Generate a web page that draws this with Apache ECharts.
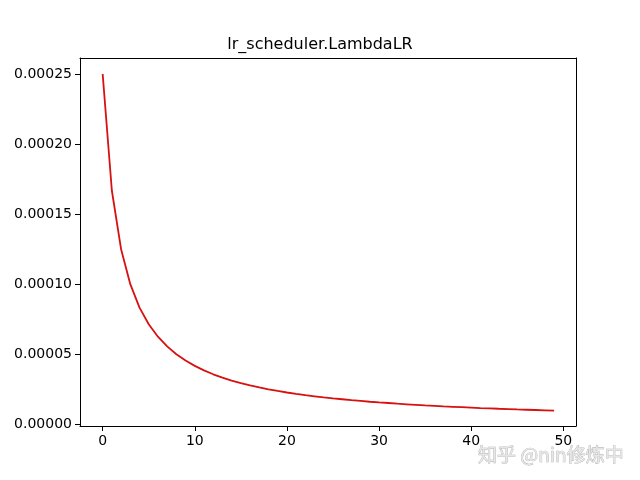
<!DOCTYPE html>
<html>
<head>
<meta charset="utf-8">
<script src="https://cdn.jsdelivr.net/npm/echarts@6/dist/echarts.min.js"></script>
<style>html,body{margin:0;padding:0;background:#fff;}#c{width:640px;height:480px;}</style>
</head>
<body>
<div id="c"></div>
<script>
var epochs = [0,1,2,3,4,5,6,7,8,9,10,11,12,13,14,15,16,17,18,19,20,21,22,23,24,25,26,27,28,29,30,31,32,33,34,35,36,37,38,39,40,41,42,43,44,45,46,47,48,49];
var lrValues = [0.00025,0.000166667,0.000125,0.0001,0.0000833,0.0000714,0.0000625,0.0000556,0.00005,0.0000455,
  0.0000417,0.0000385,0.0000357,0.0000333,0.00003125,0.0000294,0.0000278,0.0000263,0.000025,0.0000238,
  0.0000227,0.0000217,0.0000208,0.00002,0.0000192,0.0000185,0.0000179,0.0000172,0.0000167,0.0000161,
  0.0000156,0.0000152,0.0000147,0.0000143,0.0000139,0.0000135,0.0000132,0.0000128,0.0000125,0.0000122,
  0.0000119,0.0000116,0.0000114,0.0000111,0.0000109,0.0000106,0.0000104,0.0000102,0.00001,0.0000098];
var xTicks = [0,10,20,30,40,50];
var yTicks = [0,0.00005,0.0001,0.00015,0.0002,0.00025];
var titleText = 'lr_scheduler.LambdaLR';
var watermark = '知乎 @nin修炼中';

var chart = echarts.init(document.getElementById('c'), null, {renderer:'canvas'});
var font = 'DejaVu Sans';
var data = epochs.map(function(e,i){return [e, lrValues[i]];});
chart.setOption({
  animation:false,
  backgroundColor:'#fff',
  title:{text:titleText,left:'center',top:32,textStyle:{fontFamily:font,fontSize:16,fontWeight:'normal',color:'#000'}},
  grid:{left:80,right:64,top:58,bottom:54,containLabel:false},
  xAxis:[{
    type:'value',min:-2.46,max:51.38,position:'bottom',
    axisLine:{show:true,onZero:false,lineStyle:{color:'#000',width:1}},
    axisTick:{show:true,length:5,customValues:xTicks,lineStyle:{color:'#000'}},
    axisLabel:{show:true,customValues:xTicks,margin:8,fontFamily:font,fontSize:14,color:'#000',formatter:function(v){return String(v);}},
    splitLine:{show:false}
  },{
    type:'value',min:-2.46,max:51.38,position:'top',
    axisLine:{show:true,onZero:false,lineStyle:{color:'#000',width:1}},
    axisTick:{show:false},axisLabel:{show:false},splitLine:{show:false}
  }],
  yAxis:[{
    type:'value',min:-0.0000012,max:0.0002614,position:'left',
    axisLine:{show:true,onZero:false,lineStyle:{color:'#000',width:1}},
    axisTick:{show:true,length:5,customValues:yTicks,lineStyle:{color:'#000'}},
    axisLabel:{show:true,customValues:yTicks,margin:8,fontFamily:font,fontSize:14,color:'#000',formatter:function(v){return v.toFixed(5);}},
    splitLine:{show:false}
  },{
    type:'value',min:-0.0000012,max:0.0002614,position:'right',
    axisLine:{show:true,onZero:false,lineStyle:{color:'#000',width:1}},
    axisTick:{show:false},axisLabel:{show:false},splitLine:{show:false}
  }],
  series:[{
    type:'line',data:data,xAxisIndex:0,yAxisIndex:0,
    showSymbol:false,symbol:'none',smooth:false,
    lineStyle:{color:'#d81010',width:1.8}
  }],
  graphic:[{
    type:'text',right:16,bottom:15,
    style:{text:watermark,fontFamily:'Noto Sans CJK SC',fontSize:19,fill:'#e6e6e6',stroke:'#b0b0b0',lineWidth:0.7}
  }]
});
</script>
</body>
</html>
